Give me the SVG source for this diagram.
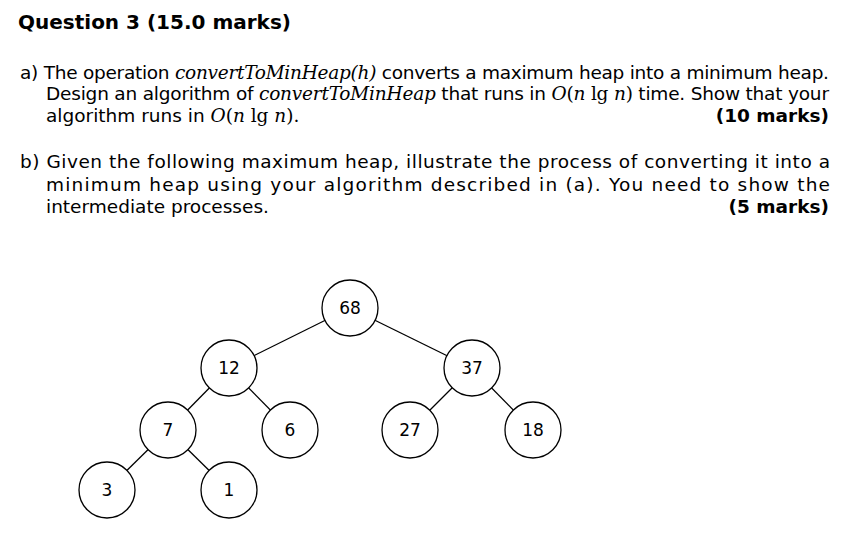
<svg xmlns="http://www.w3.org/2000/svg" width="842" height="542" viewBox="0 0 842 542">
<style>
.t{font-family:"DejaVu Sans",Verdana,sans-serif;font-size:18.5px;fill:#000}
.b{font-weight:bold}
.m{font-family:"DejaVu Serif","Liberation Serif",serif;font-style:italic}
.n circle{fill:#fff;stroke:#000;stroke-width:1.3}
.n text{font-family:"DejaVu Sans",Verdana,sans-serif;font-size:17px;text-anchor:middle}
#edges line{stroke:#000;stroke-width:1.3}
</style>
<rect width="842" height="542" fill="#fff"/>
<text class="t b" x="18" y="29" style="font-size:20px">Question 3 (15.0 marks)</text>
<text class="t" x="20" y="79" textLength="809" lengthAdjust="spacing">a) The operation <tspan class="m">convertToMinHeap(h)</tspan> converts a maximum heap into a minimum heap.</text>
<text class="t" x="46" y="100" textLength="783" lengthAdjust="spacing">Design an algorithm of <tspan class="m">convertToMinHeap</tspan> that runs in <tspan class="m">O</tspan><tspan style="font-family:'DejaVu Serif',serif">(<tspan font-style="italic">n</tspan> lg <tspan font-style="italic">n</tspan>)</tspan> time. Show that your</text>
<text class="t" x="46" y="122">algorithm runs in <tspan class="m">O</tspan><tspan style="font-family:'DejaVu Serif',serif">(<tspan font-style="italic">n</tspan> lg <tspan font-style="italic">n</tspan>).</tspan></text>
<text class="t b" x="829" y="122" text-anchor="end">(10 marks)</text>
<text class="t" x="20" y="168" textLength="810" lengthAdjust="spacing">b) Given the following maximum heap, illustrate the process of converting it into a</text>
<text class="t" x="46" y="191" textLength="784" lengthAdjust="spacing">minimum heap using your algorithm described in (a). You need to show the</text>
<text class="t" x="46" y="213">intermediate processes.</text>
<text class="t b" x="829" y="213" text-anchor="end">(5 marks)</text>
<g id="edges">
<line x1="350" y1="308" x2="229" y2="368"/>
<line x1="350" y1="308" x2="472" y2="368"/>
<line x1="229" y1="368" x2="168" y2="430"/>
<line x1="229" y1="368" x2="290" y2="430"/>
<line x1="472" y1="368" x2="410" y2="430"/>
<line x1="472" y1="368" x2="533" y2="430"/>
<line x1="168" y1="430" x2="107" y2="490"/>
<line x1="168" y1="430" x2="229" y2="490"/>
</g>
<g id="n68" class="n"><circle cx="350" cy="308" r="28"/><text x="350" y="314">68</text></g>
<g id="n12" class="n"><circle cx="229" cy="368" r="28"/><text x="229" y="374">12</text></g>
<g id="n37" class="n"><circle cx="472" cy="368" r="28"/><text x="472" y="374">37</text></g>
<g id="n7" class="n"><circle cx="168" cy="430" r="28"/><text x="168" y="436">7</text></g>
<g id="n6" class="n"><circle cx="290" cy="430" r="28"/><text x="290" y="436">6</text></g>
<g id="n27" class="n"><circle cx="410" cy="430" r="28"/><text x="410" y="436">27</text></g>
<g id="n18" class="n"><circle cx="533" cy="430" r="28"/><text x="533" y="436">18</text></g>
<g id="n3" class="n"><circle cx="107" cy="490" r="28"/><text x="107" y="496">3</text></g>
<g id="n1" class="n"><circle cx="229" cy="490" r="28"/><text x="229" y="496">1</text></g>
</svg>
